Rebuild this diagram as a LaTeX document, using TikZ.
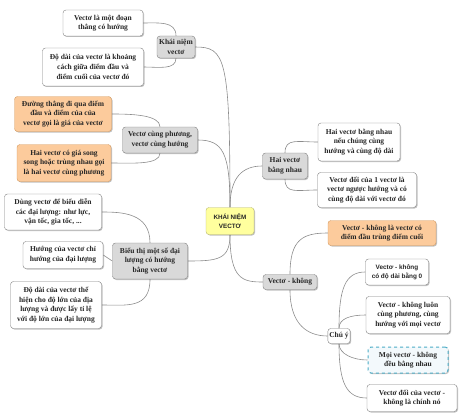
\documentclass[tikz,border=0pt]{standalone}
\usepackage{fontspec}
\setmainfont{Liberation Serif}
\newfontfamily\sansvn{Liberation Sans}
\usetikzlibrary{shadows,backgrounds}
\definecolor{topicgray}{HTML}{D9D9D9}
\definecolor{notefill}{HTML}{FCCB9C}
\definecolor{noteline}{HTML}{D49A5E}
\definecolor{rootfill}{HTML}{FFFF9E}
\definecolor{rootline}{HTML}{B8B870}
\definecolor{tipblue}{HTML}{4BACC6}
\definecolor{tipfill}{HTML}{F3F9FC}

\begin{document}
\begin{tikzpicture}[x=1pt,y=-1pt]
        \tikzset{every node/.style={font=\bfseries\fontsize{7.5}{9.6}\selectfont, text=black!85}}
        \tikzset{box/.style={draw=black!50, rounded corners=3pt, align=center, inner sep=1.5pt,
                 drop shadow={shadow xshift=1pt, shadow yshift=-1pt, opacity=.35, fill=black!70}}}
        \tikzset{leaf/.style={box, fill=white}}
        \tikzset{topic/.style={box, fill=topicgray}}
        \tikzset{note/.style={box, fill=notefill, draw=noteline}}
        \tikzset{tip/.style={box, fill=tipfill, draw=tipblue, dashed, line width=1pt}}
        \tikzset{link/.style={draw=black!45, line width=0.6pt}}
        \useasboundingbox (0,0) rectangle (474,420);
        % centre
        \node[box, fill=rootfill, draw=rootline, minimum width=48pt, minimum height=27pt,
              font=\sansvn\bfseries\fontsize{6.3}{9}\selectfont] (root) at (230,221) {KHÁI NIỆM\\VECTƠ};
        % left, top
        \node[topic, minimum width=38pt, minimum height=22pt] (khai) at (176,47) {Khái niệm\\vectơ};
        \node[leaf, minimum width=80pt, minimum height=26pt] (vdoan) at (103,23) {Vectơ là một đoạn\\thẳng có hướng};
        \node[leaf, minimum width=101pt, minimum height=38pt] (dodai) at (93,67) {Độ dài của vectơ là khoảng\\cách giữa điểm đầu và\\điểm cuối của vectơ đó};
        \node[topic, minimum width=75pt, minimum height=26pt] (cungph) at (160,140) {Vectơ cùng phương,\\vectơ cùng hướng};
        \node[note, minimum width=97pt, minimum height=35pt] (duong) at (63,114) {Đường thẳng đi qua điểm\\đầu và điểm của của\\vectơ gọi là giá của vectơ};
        \node[note, minimum width=94pt, minimum height=37pt] (haigia) at (64,163) {Hai vectơ có giá song\\song hoặc trùng nhau gọi\\là hai vectơ cùng phương};
        % left, bottom
        \node[topic, minimum width=75pt, minimum height=36pt] (bieuthi) at (150,261) {Biểu thị một số đại\\lượng có hướng\\bằng vectơ};
        \node[leaf, minimum width=97pt, minimum height=36pt] (dung) at (53,212) {Dùng vectơ để biểu diễn\\các đại lượng: như lực,\\vận tốc, gia tốc, ...};
        \node[leaf, minimum width=80pt, minimum height=27pt] (huong) at (63,255) {Hướng của vectơ chỉ\\hướng của đại lượng};
        \node[leaf, minimum width=91pt, minimum height=47pt] (dolon) at (56,305) {Độ dài của vectơ thể\\hiện cho độ lớn của địa\\lượng và được lấy tỉ lệ\\với độ lớn của đại lượng};
        % right, top
        \node[topic, minimum width=45pt, minimum height=26pt] (bang) at (285,166) {Hai vectơ\\bằng nhau};
        \node[leaf, minimum width=82pt, minimum height=38pt] (bangdn) at (359,142) {Hai vectơ bằng nhau\\nếu chúng cùng\\hướng và cùng độ dài};
        \node[leaf, minimum width=99pt, minimum height=35pt] (doi) at (367,190) {Vectơ đối của 1 vectơ là\\vectơ ngược hướng và có\\cùng độ dài với vectơ đó};
        % right, bottom
        \node[topic, minimum width=54pt, minimum height=15pt] (khong) at (290,282) {Vectơ - không};
        \node[note, minimum width=108pt, minimum height=25pt] (khongdn) at (382,233) {Vectơ - không là vectơ có\\điểm đầu trùng điểm cuối};
        \node[leaf, minimum width=22pt, minimum height=15pt] (chuy) at (339,336) {Chú ý};
        \node[leaf, minimum width=63pt, minimum height=26pt,
              font=\sansvn\bfseries\fontsize{6.4}{9}\selectfont] (cy1) at (397,272) {Vectơ - không\\có độ dài bằng 0};
        \node[leaf, minimum width=84pt, minimum height=37pt] (cy2) at (408,315) {Vectơ - không luôn\\cùng phương, cùng\\hướng với mọi vectơ};
        \node[tip, minimum width=80pt, minimum height=26pt] (cy3) at (408,360) {Mọi vectơ - không\\đều bằng nhau};
        \node[leaf, minimum width=90pt, minimum height=27pt] (cy4) at (412,398) {Vectơ đối của vectơ -\\không là chính nó};
        % links
        \begin{scope}[on background layer]
        \path[link] (root.north) .. controls +(0,-150) and +(30,0) .. (khai.east);
        \path[link] (root.north) .. controls +(0,-55) and +(25,0) .. (cungph.east);
        \path[link] (root.north) .. controls +(0,-30) and +(-20,0) .. (bang.west);
        \path[link] (root.south) .. controls +(0,25) and +(30,0) .. (bieuthi.east);
        \path[link] (root.south) .. controls +(0,45) and +(-20,0) .. (khong.west);
        \path[link] (khai.north) .. controls +(0,-15) and +(15,0) .. (vdoan.east);
        \path[link] (khai.south) .. controls +(0,12) and +(15,0) .. (dodai.east);
        \path[link] (cungph.north) .. controls +(0,-12) and +(20,0) .. (duong.east);
        \path[link] (cungph.south) .. controls +(0,12) and +(20,0) .. (haigia.east);
        \path[link] (bieuthi.north) .. controls +(0,-30) and +(20,0) .. (dung.east);
        \path[link] (bieuthi.west) -- (huong.east);
        \path[link] (bieuthi.south) .. controls +(0,30) and +(25,0) .. (dolon.east);
        \path[link] (bang.north) .. controls +(0,-15) and +(-20,0) .. (bangdn.west);
        \path[link] (bang.south) .. controls +(0,15) and +(-20,0) .. (doi.west);
        \path[link] (khong.north) .. controls +(0,-35) and +(-25,0) .. (khongdn.west);
        \path[link] (khong.south) .. controls +(0,35) and +(-20,0) .. (chuy.west);
        \path[link] (chuy.north) .. controls +(0,-40) and +(-20,0) .. (cy1.west);
        \path[link] (chuy.north) .. controls +(0,-10) and +(-15,0) .. (cy2.west);
        \path[link] (chuy.south) .. controls +(0,10) and +(-15,0) .. (cy3.west);
        \path[link] (chuy.south) .. controls +(0,40) and +(-20,0) .. (cy4.west);
        \end{scope}
\end{tikzpicture}
\end{document}
